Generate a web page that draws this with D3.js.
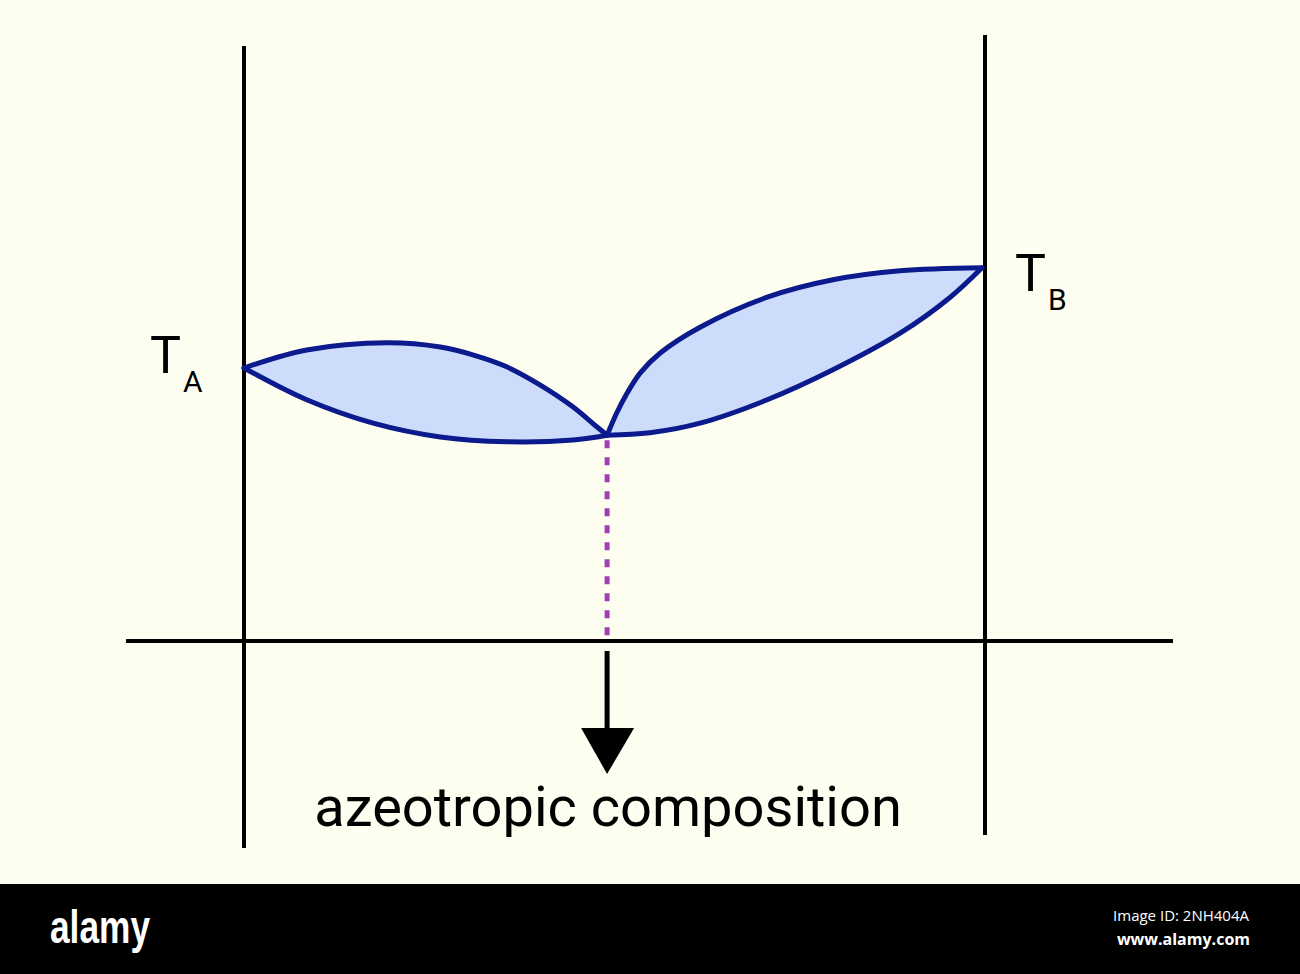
<!DOCTYPE html>
<html>
<head>
<meta charset="utf-8">
<script src="https://cdn.jsdelivr.net/npm/d3@7"></script>
<style>
  body { margin: 0; background: #fefef0; }
  svg { display: block; }
</style>
</head>
<body>
<div id="viz"></div>
<script>
// composition (mole fraction of B) vs temperature
const leftVapour = [[0, 45.5], [0.085, 48.5], [0.194, 49.7], [0.266, 49.0], [0.310, 47.7], [0.356, 45.7], [0.401, 42.7], [0.446, 39.0], [0.478, 35.7], [0.492, 34.3]]
const leftLiquid = [[0, 45.5], [0.085, 40.2], [0.175, 36.3], [0.266, 34.0], [0.356, 33.2], [0.446, 33.5], [0.492, 34.3]]
const rightVapour = [[0.492, 34.3], [0.505, 38.0], [0.519, 41.3], [0.537, 44.7], [0.564, 48.0], [0.618, 52.3], [0.709, 57.3], [0.798, 60.2], [0.889, 61.7], [1, 62.2]]
const rightLiquid = [[0.492, 34.3], [0.550, 34.7], [0.618, 36.3], [0.709, 40.2], [0.798, 45.2], [0.889, 51.3], [0.957, 57.3], [1, 62.2]]
const azeotrope = 0.492
const labels = { a: ['T', 'A'], b: ['T', 'B'], caption: 'azeotropic composition' }

const width = 1300
const height = 974

const svg = d3.select('#viz')
  .append('svg')
  .attr('width', width)
  .attr('height', height)

svg.append('rect')
  .attr('width', width)
  .attr('height', height)
  .attr('fill', '#fefef0')

const x = d3.scaleLinear().domain([0, 1]).range([244, 982])
const y = d3.scaleLinear().domain([0, 100]).range([641, 41])

/**
 * Draws the frame: two temperature axes and the composition axis.
 */
function drawFrame () {
  const g = svg.append('g').attr('stroke', '#000').attr('stroke-width', 4)
  g.append('line').attr('x1', x(0)).attr('x2', x(0)).attr('y1', 46).attr('y2', 848)
  g.append('line').attr('x1', x(1) + 3).attr('x2', x(1) + 3).attr('y1', 35).attr('y2', 835)
  g.append('line').attr('x1', 126).attr('x2', 1173).attr('y1', y(0)).attr('y2', y(0))
}

/**
 * Draws one lens (vapour curve over liquid curve) with its fill.
 */
function drawLens (upper, lower) {
  const line = d3.line()
    .x(d => x(d[0]))
    .y(d => y(d[1]))
    .curve(d3.curveCatmullRom.alpha(0.5))

  const fillPath = line(upper) + line(lower.slice().reverse()).replace(/^M/, 'L') + 'Z'
  svg.append('path')
    .attr('d', fillPath)
    .attr('fill', '#cddcfb')
    .attr('stroke', 'none')

  ;[upper, lower].forEach(pts => {
    svg.append('path')
      .attr('d', line(pts))
      .attr('fill', 'none')
      .attr('stroke', '#0b1a8c')
      .attr('stroke-width', 5)
      .attr('stroke-linecap', 'round')
  })
}

/**
 * Dotted drop line and the arrow under the axis.
 */
function drawAzeotrope () {
  const ax = x(azeotrope)
  const tip = rightLiquid[0][1]
  svg.append('line')
    .attr('x1', ax).attr('x2', ax)
    .attr('y1', y(tip) + 5).attr('y2', y(0))
    .attr('stroke', '#a33db5')
    .attr('stroke-width', 5)
    .attr('stroke-dasharray', '8 9')

  svg.append('line')
    .attr('x1', ax).attr('x2', ax)
    .attr('y1', y(0) + 10).attr('y2', y(0) + 95)
    .attr('stroke', '#000')
    .attr('stroke-width', 5)

  svg.append('path')
    .attr('d', `M${ax - 26},${y(0) + 87} L${ax + 27},${y(0) + 87} L${ax},${y(0) + 133} Z`)
    .attr('fill', '#000')

  svg.append('text')
    .text(labels.caption)
    .attr('x', ax + 1)
    .attr('y', 826)
    .attr('text-anchor', 'middle')
    .attr('font-family', 'Roboto, sans-serif')
    .attr('font-size', 56)
    .attr('fill', '#000')
}

/**
 * Boiling point labels T_A and T_B.
 */
function drawLabels () {
  const put = (pair, xx, yy, dx, dy) => {
    const t = svg.append('text')
      .attr('font-family', 'Roboto, sans-serif')
      .attr('fill', '#000')
    t.append('tspan').attr('x', xx).attr('y', yy).attr('font-size', 52).text(pair[0])
    t.append('tspan').attr('x', xx + dx).attr('y', yy + dy).attr('font-size', 30).text(pair[1])
  }
  put(labels.a, 150, y(leftVapour[0][1]) + 5, 33, 19)
  put(labels.b, 1015, y(rightVapour[rightVapour.length - 1][1]) + 23, 33, 19)
}

/**
 * Black stock-photo strip at the bottom.
 */
function drawStrip () {
  svg.append('rect')
    .attr('x', 0).attr('y', 884)
    .attr('width', width).attr('height', height - 884)
    .attr('fill', '#000')

  svg.append('text')
    .text('alamy')
    .attr('x', 50).attr('y', 943)
    .attr('font-family', '"Liberation Sans Narrow", "Liberation Sans", sans-serif')
    .attr('font-weight', 'bold')
    .attr('font-size', 46)
    .attr('textLength', 100)
    .attr('lengthAdjust', 'spacingAndGlyphs')
    .attr('fill', '#fff')

  svg.append('text')
    .text('Image ID: 2NH404A')
    .attr('x', 1249).attr('y', 921)
    .attr('text-anchor', 'end')
    .attr('font-family', '"Open Sans", sans-serif')
    .attr('font-size', 15)
    .attr('fill', '#fff')

  svg.append('text')
    .text('www.alamy.com')
    .attr('x', 1250).attr('y', 945)
    .attr('text-anchor', 'end')
    .attr('font-family', '"Open Sans", sans-serif')
    .attr('font-weight', 'bold')
    .attr('font-size', 16)
    .attr('fill', '#fff')
}

drawFrame()
drawLens(leftVapour, leftLiquid)
drawLens(rightVapour, rightLiquid)
drawAzeotrope()
drawLabels()
drawStrip()
</script>
</body>
</html>
